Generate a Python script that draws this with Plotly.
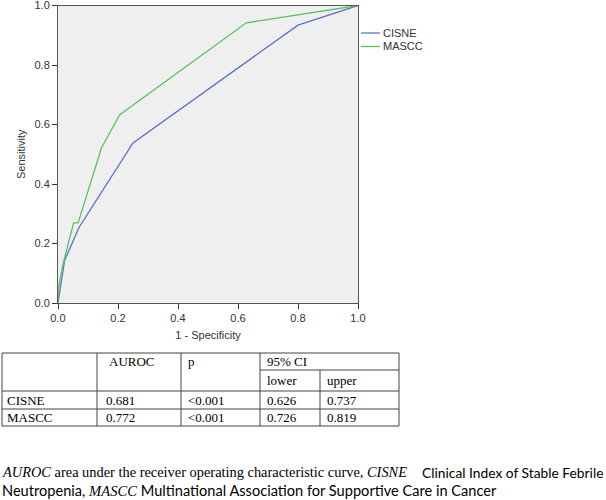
import plotly.graph_objects as go

# ROC curve points
CISNE_FPR = [0.0, 0.022, 0.07, 0.25, 0.80, 1.0]
CISNE_TPR = [0.0, 0.143, 0.254, 0.538, 0.934, 1.0]
MASCC_FPR = [0.0, 0.0, 0.017, 0.052, 0.067, 0.145, 0.206, 0.628, 1.0]
MASCC_TPR = [0.0, 0.042, 0.132, 0.269, 0.269, 0.522, 0.633, 0.942, 1.0]

TICKS = [0.0, 0.2, 0.4, 0.6, 0.8, 1.0]

SERIES = ["CISNE", "MASCC"]
COLORS = ["#5b72c2", "#55c45f"]

# table values
ROW_NAMES = ["CISNE", "MASCC"]
AUROC = ["0.681", "0.772"]
P_VALUES = ["<0.001", "<0.001"]
CI_LOWER = ["0.626", "0.726"]
CI_UPPER = ["0.737", "0.819"]

W, H = 606, 500


def px(x):
    return x / W


def py(y):
    return 1 - y / H


fig = go.Figure()

fig.add_trace(go.Scatter(x=CISNE_FPR, y=CISNE_TPR, mode="lines", name=SERIES[0],
                         line=dict(color=COLORS[0], width=1.3)))
fig.add_trace(go.Scatter(x=MASCC_FPR, y=MASCC_TPR, mode="lines", name=SERIES[1],
                         line=dict(color=COLORS[1], width=1.3)))

axis_font = dict(family="Liberation Sans", size=11, color="#333333")

fig.update_xaxes(
    domain=[px(58), px(358)], range=[0, 1], tickvals=TICKS, tickformat=".1f",
    showgrid=False, zeroline=False, showline=True, linecolor="#555555", linewidth=1,
    mirror=True, ticks="outside", ticklen=5, tickcolor="#333333", tickfont=axis_font,
    title=dict(text="1 - Specificity", font=axis_font, standoff=8),
    automargin=False, ticklabeloverflow="allow",
)
fig.update_yaxes(
    domain=[py(303), py(5.5)], range=[0, 1], tickvals=TICKS, tickformat=".1f",
    showgrid=False, zeroline=False, showline=True, linecolor="#555555", linewidth=1,
    mirror=True, ticks="outside", ticklen=5, tickcolor="#333333", tickfont=axis_font,
    title=dict(text="Sensitivity", font=axis_font, standoff=6),
    automargin=False, ticklabeloverflow="allow",
)

# legend at the right of the plot (short line samples, like the original)
legend_y = [33, 46.5]
for name, color, ly in zip(SERIES, COLORS, legend_y):
    fig.add_shape(type="line", xref="paper", yref="paper",
                  x0=px(361), x1=px(380), y0=py(ly), y1=py(ly),
                  line=dict(color=color, width=1.3))
    fig.add_annotation(text=name, x=px(381), y=py(ly), xref="paper", yref="paper",
                       xanchor="left", yanchor="middle", showarrow=False,
                       font=dict(family="Liberation Sans", size=11, color="#333333"))

# ---- table drawn with lines + text ----
line_style = dict(color="#444444", width=1)
x_l, x_r = 2, 399
cols = [97, 181, 260]
y_top, y_mid, y_h, y_r1, y_bot = 353, 370, 391, 409, 426


def hline(x0, x1, y):
    fig.add_shape(type="line", xref="paper", yref="paper",
                  x0=px(x0), x1=px(x1), y0=py(y), y1=py(y), line=line_style)


def vline(x, y0, y1):
    fig.add_shape(type="line", xref="paper", yref="paper",
                  x0=px(x), x1=px(x), y0=py(y0), y1=py(y1), line=line_style)


hline(x_l, x_r, y_top)
hline(260, x_r, y_mid)
hline(x_l, x_r, y_h)
hline(x_l, x_r, y_r1)
hline(x_l, x_r, y_bot)
vline(x_l, y_top, y_bot)
vline(x_r, y_top, y_bot)
for c in cols:
    vline(c, y_top, y_bot)
vline(320, y_mid, y_bot)

table_font = dict(family="Liberation Serif", size=13, color="black")


def cell(text, x, y):
    fig.add_annotation(text=text, x=px(x), y=py(y), xref="paper", yref="paper",
                       xanchor="left", yanchor="middle", showarrow=False,
                       font=table_font)


cell("AUROC", 107, 361)
cell("p", 186, 361)
cell("95% CI", 265, 361)
cell("lower", 265, 380)
cell("upper", 325, 380)
row_y = [400, 417.5]
for i, name in enumerate(ROW_NAMES):
    cell(name, 5, row_y[i])
    cell(AUROC[i], 104, row_y[i])
    cell(P_VALUES[i].replace("<", "&lt;"), 186, row_y[i])
    cell(CI_LOWER[i], 265, row_y[i])
    cell(CI_UPPER[i], 325, row_y[i])

# ---- caption ----
serif = "font-family:'Liberation Serif'"
sans = "font-family:Lato"
line1a = (f"<span style=\"{serif}\"><i>AUROC</i> area under the receiver operating "
          f"characteristic curve, <i>CISNE</i></span>")
line1b = f"<span style=\"{sans}\">Clinical Index of Stable Febrile</span>"
line2 = (f"<span style=\"{sans}\">Neutropenia, </span><span style=\"{serif}\"><i>MASCC</i></span> "
         f"<span style=\"{sans}\">Multinational Association for Supportive Care in Cancer</span>")
fig.add_annotation(text=line1a, x=px(0), y=py(472), xref="paper", yref="paper",
                   xanchor="left", yanchor="middle", showarrow=False,
                   font=dict(size=14.4, color="black"))
fig.add_annotation(text=line1b, x=px(605), y=py(472), xref="paper", yref="paper",
                   xanchor="right", yanchor="middle", showarrow=False,
                   font=dict(size=13.8, color="black"))
fig.add_annotation(text=line2, x=px(0), y=py(490), xref="paper", yref="paper",
                   xanchor="left", yanchor="middle", showarrow=False,
                   font=dict(size=14.6, color="black"))

fig.update_layout(
    width=W, height=H,
    margin=dict(l=0, r=0, t=0, b=0),
    paper_bgcolor="white",
    plot_bgcolor="#efefef",
    showlegend=False,
)

fig.write_html("out.html", config={"displayModeBar": False},
               post_script="document.body.style.margin='0';")
